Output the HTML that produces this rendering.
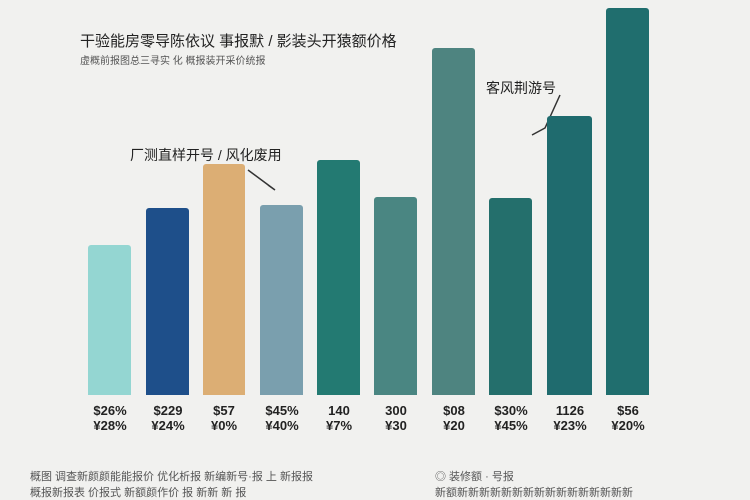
<!DOCTYPE html>
<html><head><meta charset="utf-8"><style>
body{margin:0;width:750px;height:500px;background:#f1f1ef;position:relative;overflow:hidden;font-family:"Liberation Sans","Noto Sans CJK SC",sans-serif}
.b{position:absolute;bottom:105px;border-radius:3px 3px 0 0}
.t{position:absolute;font-size:13px;color:#222;text-align:center;width:50px;font-weight:bold}
.s{position:absolute;font-size:11px;color:#555}
</style></head><body>
<div style="position:absolute;left:80px;top:30px;font-size:15px;color:#222">干验能房零导陈依议 事报默 / 影装头开猿额价格</div>
<div class="s" style="left:80px;top:52px;font-size:10px">虚概前报图总三寻实 化 概报装开采价统报</div>
<div style="position:absolute;left:130px;top:145px;font-size:14px;color:#222">厂测直样开号 / 风化废用</div>
<div style="position:absolute;left:486px;top:78px;font-size:14px;color:#222">客风荆游号</div>
<svg style="position:absolute;left:0;top:0" width="750" height="500"><path d="M248 170 L275 190 L268 185" stroke="#333" fill="none" stroke-width="1.5"/><path d="M560 95 L545 128 L532 135" stroke="#333" fill="none" stroke-width="1.5"/></svg>
<div class="b" style="left:88px;width:43px;height:150px;background:#94d6d2"></div>
<div class="b" style="left:146px;width:43px;height:187px;background:#1e4f8a"></div>
<div class="b" style="left:203px;width:42px;height:231px;background:#dcae74"></div>
<div class="b" style="left:260px;width:43px;height:190px;background:#7a9fae"></div>
<div class="b" style="left:317px;width:43px;height:235px;background:#237a72"></div>
<div class="b" style="left:374px;width:43px;height:198px;background:#4a8682"></div>
<div class="b" style="left:432px;width:43px;height:347px;background:#4e8480"></div>
<div class="b" style="left:489px;width:43px;height:197px;background:#246f6c"></div>
<div class="b" style="left:547px;width:45px;height:279px;background:#1f6b6e"></div>
<div class="b" style="left:606px;width:43px;height:387px;background:#206e6e"></div>
<div class="t" style="left:85px;top:403px">$26%<br>¥28%</div>
<div class="t" style="left:143px;top:403px">$229<br>¥24%</div>
<div class="t" style="left:199px;top:403px">$57<br>¥0%</div>
<div class="t" style="left:257px;top:403px">$45%<br>¥40%</div>
<div class="t" style="left:314px;top:403px">140<br>¥7%</div>
<div class="t" style="left:371px;top:403px">300<br>¥30</div>
<div class="t" style="left:429px;top:403px">$08<br>¥20</div>
<div class="t" style="left:486px;top:403px">$30%<br>¥45%</div>
<div class="t" style="left:545px;top:403px">1126<br>¥23%</div>
<div class="t" style="left:603px;top:403px">$56<br>¥20%</div>
<div class="s" style="left:30px;top:468px">概图 调查新颜颜能能报价 优化析报 新编新号·报 上 新报报</div>
<div class="s" style="left:30px;top:484px">概报新报表 价报式 新额颜作价 报 新新 新 报</div>
<div class="s" style="left:435px;top:468px">◎ 装修额 · 号报</div>
<div class="s" style="left:435px;top:484px">新额新新新新新新新新新新新新新新新新</div>
</body></html>
